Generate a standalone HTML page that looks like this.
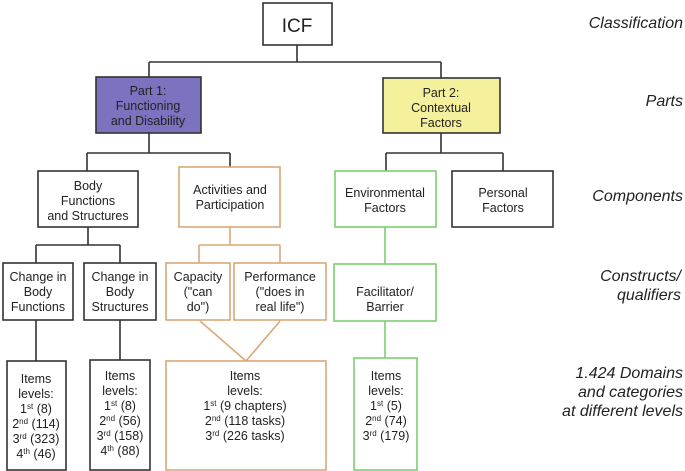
<!DOCTYPE html>
<html><head><meta charset="utf-8"><style>
html,body{margin:0;padding:0;background:#fff;}
svg{display:block;}
text{font-family:"Liberation Sans",sans-serif;font-size:12.5px;fill:#222;text-anchor:middle;}
.r{font-style:italic;font-size:16px;text-anchor:end;}
.sup{font-size:8px;}
</style></head><body>
<svg width="685" height="471" viewBox="0 0 685 471">
<g fill="none" stroke-width="1.6">
<g stroke="#333">
<path d="M297 45V62M149 62H441M149 62V77M441 62V78"/>
<path d="M149 133V153M87 153H230M87 153V171M230 153V167"/>
<path d="M441 133V153M386 153H503M386 153V171M503 153V171"/>
<path d="M88 227V245M36 245H120M36 245V263M120 245V263"/>
<path d="M36 320V361M120 320V360"/>
<rect x="263" y="3" width="69" height="42" fill="#fff"/>
<rect x="96" y="77" width="105" height="56" fill="#7b72c0"/>
<rect x="383" y="78" width="117" height="55" fill="#f5f09c"/>
<rect x="38" y="171" width="100" height="56" fill="#fff"/>
<rect x="452" y="171" width="101" height="56" fill="#fff"/>
<rect x="3" y="263" width="70" height="57" fill="#fff"/>
<rect x="84" y="263" width="72" height="57" fill="#fff"/>
<rect x="7" y="361" width="59" height="109" fill="#fff"/>
<rect x="90" y="360" width="60" height="110" fill="#fff"/>
</g>
<g stroke="#d9a877">
<path d="M230 227V245M199 245H280M199 245V263M280 245V263M200 321L246 361L280 321"/>
<rect x="179" y="167" width="101" height="60" fill="#fff"/>
<rect x="166" y="263" width="64" height="57" fill="#fff"/>
<rect x="234" y="263" width="92" height="57" fill="#fff"/>
<rect x="166" y="361" width="160" height="109" fill="#fff"/>
</g>
<g stroke="#7ccf72">
<path d="M385 227V264M385 321V358"/>
<rect x="335" y="171" width="101" height="56" fill="#fff"/>
<rect x="334" y="264" width="102" height="57" fill="#fff"/>
<rect x="354" y="358" width="63" height="112" fill="#fff"/>
</g>
</g>
<text x="297" y="32" style="font-size:19px">ICF</text>
<text x="148" y="95">Part 1:</text><text x="148" y="110">Functioning</text><text x="148" y="125">and Disability</text>
<text x="441" y="97">Part 2:</text><text x="441" y="112">Contextual</text><text x="441" y="127">Factors</text>
<text x="88" y="190">Body</text><text x="88" y="205">Functions</text><text x="88" y="220">and Structures</text>
<text x="230" y="194">Activities and</text><text x="230" y="209">Participation</text>
<text x="385" y="197">Environmental</text><text x="385" y="212">Factors</text>
<text x="503" y="197">Personal</text><text x="503" y="212">Factors</text>
<text x="38" y="281">Change in</text><text x="38" y="296">Body</text><text x="38" y="311">Functions</text>
<text x="120" y="281">Change in</text><text x="120" y="296">Body</text><text x="120" y="311">Structures</text>
<text x="198" y="281">Capacity</text><text x="198" y="296">("can</text><text x="198" y="311">do")</text>
<text x="280" y="281">Performance</text><text x="280" y="296">("does in</text><text x="280" y="311">real life")</text>
<text x="385" y="296">Facilitator/</text><text x="385" y="311">Barrier</text>
<g>
<text x="36" y="383">Items</text><text x="36" y="398">levels:</text>
<text x="36" y="413">1<tspan class="sup" dy="-4">st</tspan><tspan dy="4"> (8)</tspan></text>
<text x="36" y="428">2<tspan class="sup" dy="-4">nd</tspan><tspan dy="4"> (114)</tspan></text>
<text x="36" y="443">3<tspan class="sup" dy="-4">rd</tspan><tspan dy="4"> (323)</tspan></text>
<text x="36" y="458">4<tspan class="sup" dy="-4">th</tspan><tspan dy="4"> (46)</tspan></text>
</g>
<g>
<text x="120" y="380">Items</text><text x="120" y="395">levels:</text>
<text x="120" y="410">1<tspan class="sup" dy="-4">st</tspan><tspan dy="4"> (8)</tspan></text>
<text x="120" y="425">2<tspan class="sup" dy="-4">nd</tspan><tspan dy="4"> (56)</tspan></text>
<text x="120" y="440">3<tspan class="sup" dy="-4">rd</tspan><tspan dy="4"> (158)</tspan></text>
<text x="120" y="455">4<tspan class="sup" dy="-4">th</tspan><tspan dy="4"> (88)</tspan></text>
</g>
<g>
<text x="245" y="380">Items</text><text x="245" y="395">levels:</text>
<text x="245" y="410">1<tspan class="sup" dy="-4">st</tspan><tspan dy="4"> (9 chapters)</tspan></text>
<text x="245" y="425">2<tspan class="sup" dy="-4">nd</tspan><tspan dy="4"> (118 tasks)</tspan></text>
<text x="245" y="440">3<tspan class="sup" dy="-4">rd</tspan><tspan dy="4"> (226 tasks)</tspan></text>
</g>
<g>
<text x="386" y="380">Items</text><text x="386" y="395">levels:</text>
<text x="386" y="410">1<tspan class="sup" dy="-4">st</tspan><tspan dy="4"> (5)</tspan></text>
<text x="386" y="425">2<tspan class="sup" dy="-4">nd</tspan><tspan dy="4"> (74)</tspan></text>
<text x="386" y="440">3<tspan class="sup" dy="-4">rd</tspan><tspan dy="4"> (179)</tspan></text>
</g>
<text class="r" x="683" y="28">Classification</text>
<text class="r" x="683" y="106">Parts</text>
<text class="r" x="683" y="201">Components</text>
<text class="r" x="681" y="281">Constructs/</text>
<text class="r" x="681" y="300">qualifiers</text>
<text class="r" x="683" y="378">1.424 Domains</text>
<text class="r" x="683" y="397">and categories</text>
<text class="r" x="683" y="416">at different levels</text>
</svg>
</body></html>
